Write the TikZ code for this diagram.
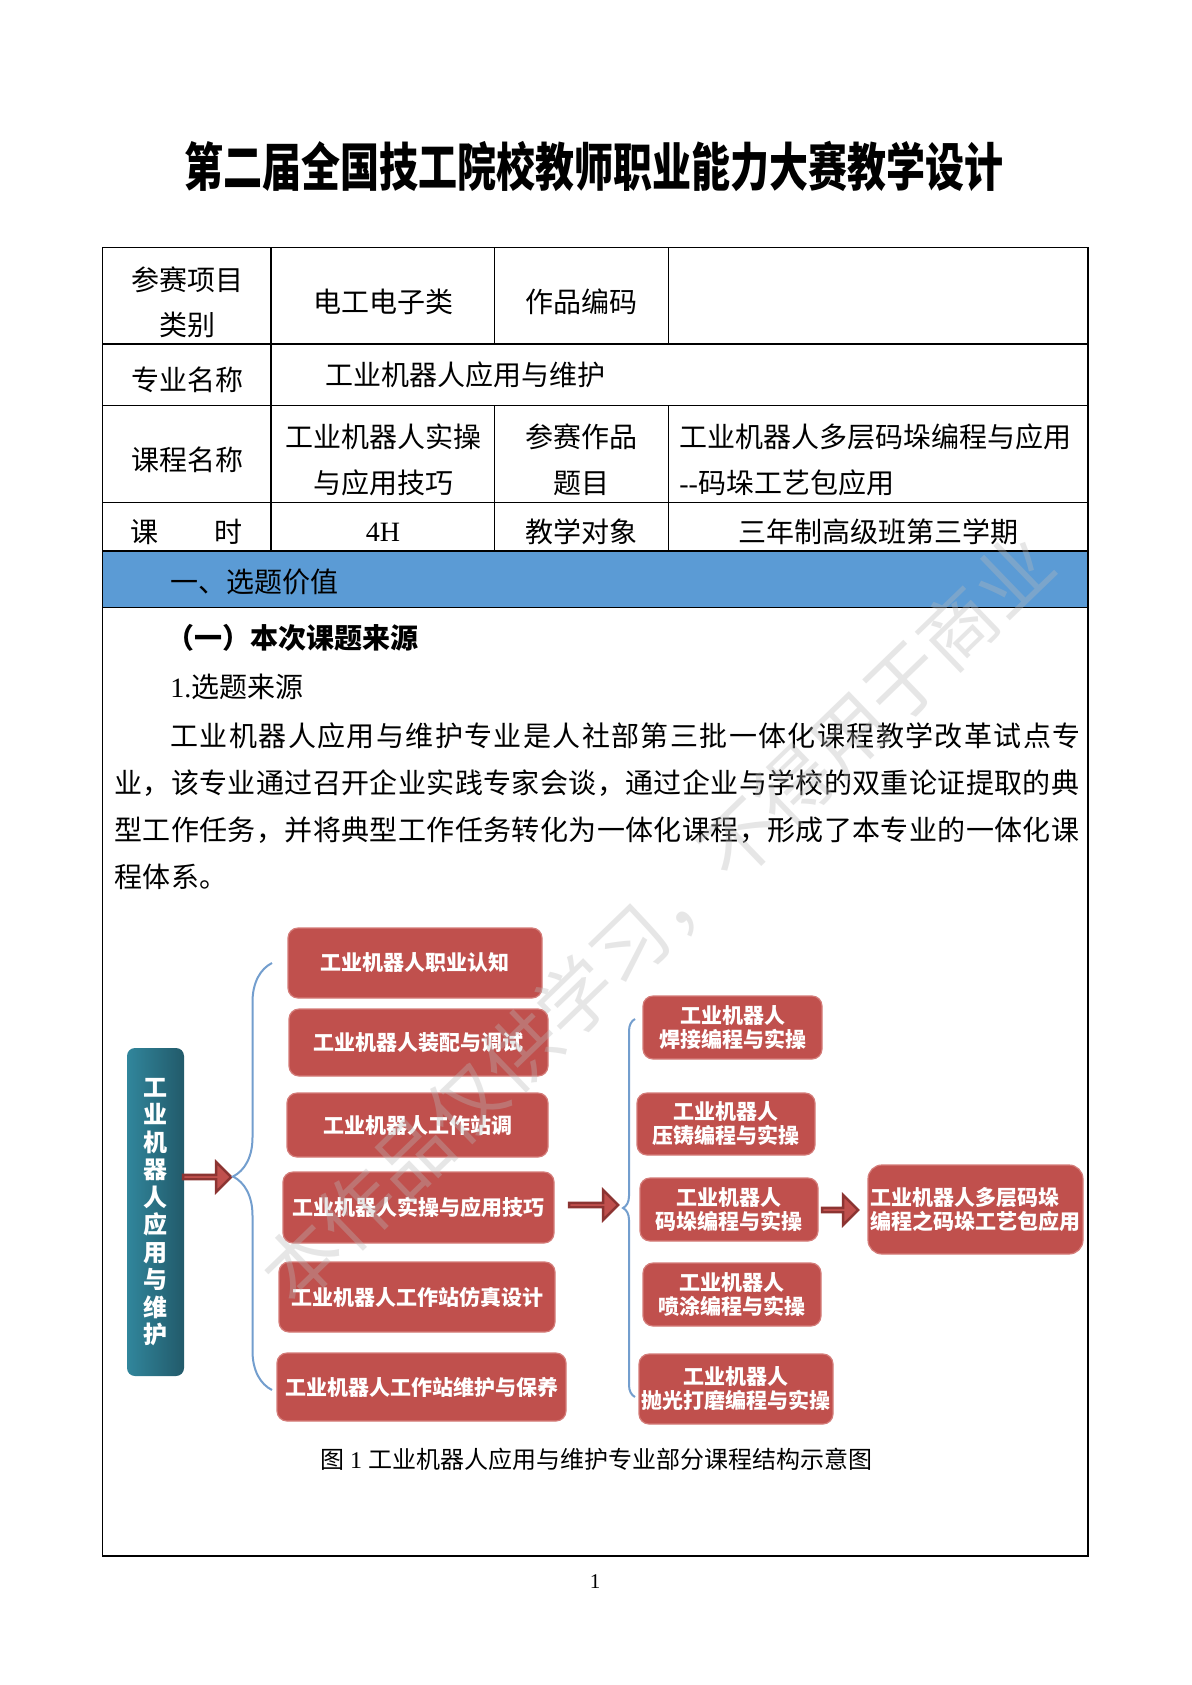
\documentclass[tikz,border=0pt]{standalone}
\usepackage{graphicx}
\usepackage{fontspec}
\setmainfont{Liberation Serif}
\newfontfamily\cjk{Noto Sans CJK SC}
\newfontfamily\cjkwide[LetterSpace=5]{Noto Sans CJK SC}
\newfontfamily\cjkpara[LetterSpace=1.4]{Noto Sans CJK SC}
\definecolor{cellblue}{RGB}{91,155,213}
\definecolor{boxred}{RGB}{192,80,77}
\definecolor{boxedge}{RGB}{212,124,121}
\definecolor{arrowdark}{RGB}{140,52,50}
\definecolor{braceblue}{RGB}{115,158,206}
\definecolor{tealleft}{RGB}{49,134,156}
\definecolor{tealright}{RGB}{34,90,106}
\definecolor{wmgrey}{RGB}{185,185,185}
\usetikzlibrary{shapes.arrows,decorations.pathreplacing}

\begin{document}
\begin{tikzpicture}[x=0.5pt,y=-0.5pt,
    tline/.style={draw=black,line width=0.6pt},
    cell/.style={font=\cjk\fontsize{14}{16}\selectfont,inner sep=0pt},
    para/.style={font=\cjkpara\fontsize{14}{16}\selectfont,inner sep=0pt,anchor=west},
    redbox/.style={rectangle,rounded corners=5pt,fill=boxred,draw=boxedge,
                   line width=0.6pt,text=white,inner sep=0pt,align=center,
                   font=\cjk\bfseries\fontsize{10.5}{12}\selectfont},
    spinebox/.style={rectangle,rounded corners=4pt,left color=tealleft,
                     right color=tealright,text=white,inner sep=0pt,align=center,
                     font=\cjk\bfseries\fontsize{12}{13.75}\selectfont},
    blockarrow/.style={single arrow,draw=arrowdark,fill=boxred,line width=1.2pt,
                       inner sep=0pt,single arrow head extend=3.5pt,minimum width=15pt},
    bracket/.style={draw=braceblue,line width=1pt,decorate}]
  \useasboundingbox (0,0) rectangle (1191,1685);
  \fill[white] (0,0) rectangle (1191,1685);

  % title
  \node[font=\cjk\bfseries\fontsize{26}{30}\selectfont] (title) at (594,166)
      {\scalebox{0.75}[1]{第二届全国技工院校教师职业能力大赛教学设计}};

  % table
  \fill[cellblue] (102.7,551) rectangle (1088,607.7);
  \draw[tline] (102.7,247.7) rectangle (1088,1556);
  \foreach \y in {344,405.3,502.3,551,607.7}
    \draw[tline] (102.7,\y) -- (1088,\y);
  \draw[tline] (271,247.7) -- (271,551);
  \foreach \x in {494.3,668.3} {
    \draw[tline] (\x,247.7) -- (\x,344);
    \draw[tline] (\x,405.3) -- (\x,551);
  }
  \node[cell] (c11a) at (187,280) {参赛项目};
  \node[cell] (c11b) at (187,325) {类别};
  \node[cell] (c12) at (383,302) {电工电子类};
  \node[cell] (c13) at (581,302) {作品编码};
  \node[cell] (c21) at (187,380) {专业名称};
  \node[cell,anchor=west] (c22) at (325,375) {工业机器人应用与维护};
  \node[cell] (c31) at (187,460) {课程名称};
  \node[cell] (c32a) at (383,437) {工业机器人实操};
  \node[cell] (c32b) at (383,483) {与应用技巧};
  \node[cell] (c33a) at (581,437) {参赛作品};
  \node[cell] (c33b) at (581,483) {题目};
  \node[cell,anchor=west] (c34a) at (679,437) {工业机器人多层码垛编程与应用};
  \node[cell,anchor=west] (c34b) at (679,483) {{\rmfamily -{}-}码垛工艺包应用};
  \node[cell] (c41a) at (144,532) {课};
  \node[cell] (c41b) at (228,532) {时};
  \node[cell,font=\rmfamily\fontsize{14}{16}\selectfont] (c42) at (383,532) {4H};
  \node[cell] (c43) at (581,532) {教学对象};
  \node[cell] (c44) at (878,532) {三年制高级班第三学期};
  \node[cell,anchor=west] (sec1) at (170,582) {一、选题价值};

  % text
  \node[cell,anchor=west,font=\cjk\bfseries\fontsize{14}{16}\selectfont] (sub1)
      at (166,638) {（一）本次课题来源};
  \node[cell,anchor=west] (src) at (170,687) {{\rmfamily 1.}选题来源};
  \node[para,font=\cjkwide\fontsize{14}{16}\selectfont] (p1) at (170,736)
      {工业机器人应用与维护专业是人社部第三批一体化课程教学改革试点专};
  \node[para] (p2) at (114,783) {业，该专业通过召开企业实践专家会谈，通过企业与学校的双重论证提取的典};
  \node[para] (p3) at (114,830) {型工作任务，并将典型工作任务转化为一体化课程，形成了本专业的一体化课};
  \node[para] (p4) at (114,877) {程体系。};

  % diagram
  \node[spinebox,minimum width=28.5pt,minimum height=164pt] (spine) at (155.5,1212)
      {工\\业\\机\\器\\人\\应\\用\\与\\维\\护};
  \node[blockarrow,minimum height=24pt] (arr1) at (206,1177) {};
  \draw[bracket,decoration={brace,amplitude=19.5pt}] (272,1390) -- (272,963);

  \node[redbox,minimum width=127pt,minimum height=35pt] (k1) at (415,963) {工业机器人职业认知};
  \node[redbox,minimum width=129.5pt,minimum height=33.5pt] (k2) at (418.5,1042.5) {工业机器人装配与调试};
  \node[redbox,minimum width=130.5pt,minimum height=32pt] (k3) at (417.5,1125) {工业机器人工作站调};
  \node[redbox,minimum width=135.5pt,minimum height=35.5pt] (k4) at (418.5,1207.5) {工业机器人实操与应用技巧};
  \node[redbox,minimum width=138pt,minimum height=35pt] (k5) at (417,1297) {工业机器人工作站仿真设计};
  \node[redbox,minimum width=144.5pt,minimum height=34pt] (k6) at (421.5,1387) {工业机器人工作站维护与保养};

  \node[blockarrow,minimum height=24.5pt] (arr2) at (592.5,1205) {};
  \draw[bracket,decoration={brace,amplitude=6pt}] (635,1397) -- (635,1019);

  \node[redbox,minimum width=89.5pt,minimum height=31.5pt] (s1) at (732.5,1027.5) {工业机器人\\焊接编程与实操};
  \node[redbox,minimum width=89pt,minimum height=31pt] (s2) at (726,1124) {工业机器人\\压铸编程与实操};
  \node[redbox,minimum width=89pt,minimum height=31.5pt] (s3) at (729,1209.5) {工业机器人\\码垛编程与实操};
  \node[redbox,minimum width=89pt,minimum height=31.5pt] (s4) at (732,1294.5) {工业机器人\\喷涂编程与实操};
  \node[redbox,minimum width=97pt,minimum height=35pt] (s5) at (736,1389) {工业机器人\\抛光打磨编程与实操};

  \node[blockarrow,minimum height=18pt] (arr3) at (839,1210) {};
  \node[redbox,rounded corners=7pt,align=left,minimum width=107.5pt,minimum height=44.5pt]
      (goal) at (975.5,1209.5) {工业机器人多层码垛\\编程之码垛工艺包应用};

  \node[font=\cjk\fontsize{12}{14}\selectfont] (cap) at (596,1459)
      {图{\rmfamily\ 1\ }工业机器人应用与维护专业部分课程结构示意图};
  \node[font=\rmfamily\fontsize{10.5}{12}\selectfont] (pgno) at (595,1582) {1};

  % watermark
  \node[rotate=44,text=wmgrey,opacity=0.35,font=\cjk\fontsize{38}{40}\selectfont]
      (wm) at (658,919) {本作品仅供学习，不得用于商业};
\end{tikzpicture}
\end{document}
